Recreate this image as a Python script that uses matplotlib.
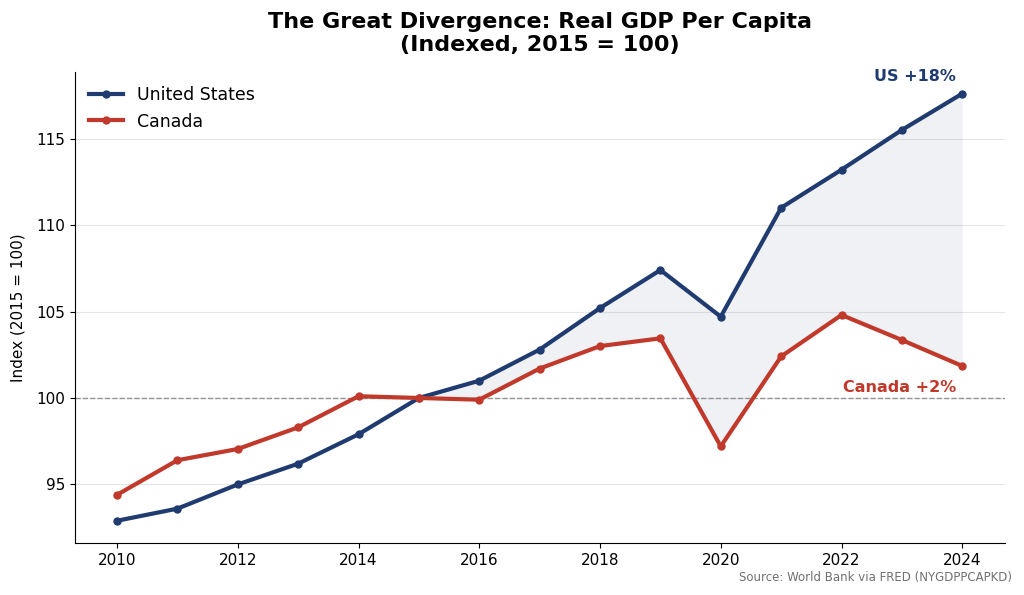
import numpy as np
import matplotlib.pyplot as plt

# Real GDP per capita, indexed 2015 = 100
years = np.arange(2010, 2025)
us = [92.9, 93.6, 95.0, 96.2, 97.9, 100.0, 101.0, 102.8, 105.2, 107.4,
      104.7, 111.0, 113.2, 115.5, 117.6]
canada = [94.4, 96.4, 97.05, 98.3, 100.1, 100.0, 99.9, 101.7, 103.0, 103.45,
          97.2, 102.4, 104.8, 103.35, 101.85]

us_color = '#1f3b6f'
ca_color = '#c0392b'

fig = plt.figure(figsize=(10.24, 5.95), dpi=100)
ax = fig.add_axes([0.073, 0.087, 0.908, 0.792])

ax.plot(years, us, color=us_color, lw=3, marker='o', ms=5, label='United States', zorder=3)
ax.plot(years, canada, color=ca_color, lw=3, marker='o', ms=5, label='Canada', zorder=3)

# shade the gap after the base year
us_arr = np.array(us)
ca_arr = np.array(canada)
ax.fill_between(years, us_arr, ca_arr, where=years >= 2015, interpolate=True,
                color=us_color, alpha=0.07, lw=0, zorder=1)

ax.axhline(100, color='gray', ls='--', lw=1, alpha=0.8, zorder=2)

ax.text(2023.9, us[-1] + 0.55, 'US +18%', color=us_color, fontsize=11.5, fontweight='bold',
        ha='right', va='bottom')
ax.text(2023.9, 100.2, 'Canada +2%', color=ca_color, fontsize=11.5, fontweight='bold',
        ha='right', va='bottom')

ax.set_xlim(2009.3, 2024.7)
ax.set_ylim(91.6, 118.85)
ax.set_xticks(np.arange(2010, 2025, 2))
ax.set_yticks([95, 100, 105, 110, 115])
ax.tick_params(labelsize=11)
ax.set_ylabel('Index (2015 = 100)', fontsize=11, labelpad=8)
ax.grid(axis='y', color='#e6e6e6', lw=0.8)
ax.set_axisbelow(True)
ax.spines['top'].set_visible(False)
ax.spines['right'].set_visible(False)

ax.legend(loc='upper left', fontsize=12.5, frameon=False, borderaxespad=0.4)

fig.suptitle('The Great Divergence: Real GDP Per Capita\n(Indexed, 2015 = 100)',
             fontsize=16, fontweight='bold', x=0.527, y=0.98)
fig.text(0.988, 0.018, 'Source: World Bank via FRED (NYGDPPCAPKD)', fontsize=8.5,
         color='#707070', ha='right', va='bottom')

fig.savefig('out.png', dpi=100)
